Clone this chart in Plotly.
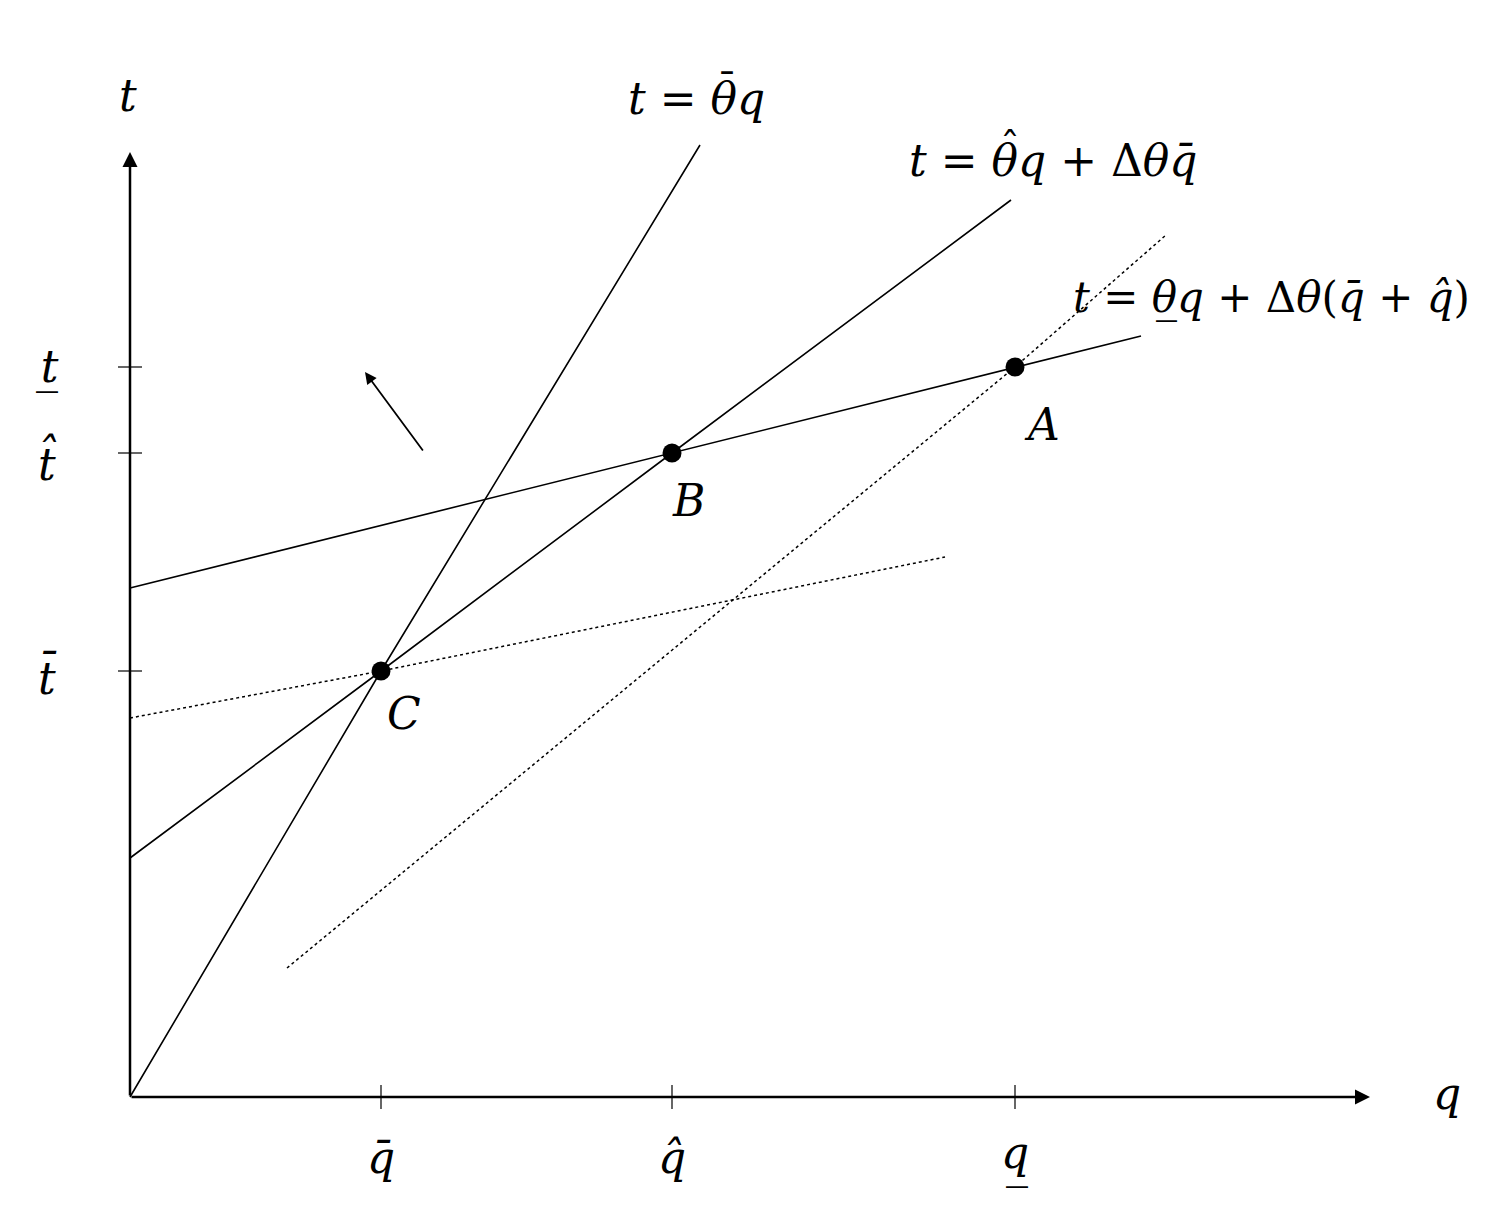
import plotly.graph_objects as go

# coordinates: q to the right, t upward, origin at the axes corner
q_bar, q_hat, q_low = 251, 542, 885
t_bar, t_hat, t_low = 426, 644, 730

# t = theta_bar q  (ray from origin)
ray_q = [0, 251, 570]
ray_t = [0, 426, 952]
# t = theta_hat q + d_theta q_bar
mid_q = [0, 251, 542, 881]
mid_t = [239, 426, 644, 897]
# t = theta_low q + d_theta (q_bar + q_hat)
low_q = [0, 542, 885, 1011]
low_t = [509, 644, 730, 761]
# dotted lines
dot1_q = [0, 251, 815]
dot1_t = [379, 426, 540]
dot2_q = [157, 885, 1036]
dot2_t = [129, 730, 862]

pts_q = [q_low, q_hat, q_bar]
pts_t = [t_low, t_hat, t_bar]
pts_lab = ["A", "B", "C"]

q_ticks = [q_bar, q_hat, q_low]
q_tick_text = ["<i>q\u0304</i>", "<i>q\u0302</i>", "<i>q\u0332</i>"]
t_ticks = [t_low, t_hat, t_bar]
t_tick_text = ["<i>t\u0332</i>", "<i>t\u0302</i>", "<i>t\u0304</i>"]

FONT = "DejaVu Serif"
BIG = 44

fig = go.Figure()

solid = dict(color="black", width=1.6)
dotted = dict(color="black", width=1.5, dash="dot")
fig.add_trace(go.Scatter(x=ray_q, y=ray_t, mode="lines", line=solid))
fig.add_trace(go.Scatter(x=mid_q, y=mid_t, mode="lines", line=solid))
fig.add_trace(go.Scatter(x=low_q, y=low_t, mode="lines", line=solid))
fig.add_trace(go.Scatter(x=dot1_q, y=dot1_t, mode="lines", line=dotted))
fig.add_trace(go.Scatter(x=dot2_q, y=dot2_t, mode="lines", line=dotted))

# tick marks
for v in q_ticks:
    fig.add_trace(go.Scatter(x=[v, v], y=[-12, 12], mode="lines",
                             line=dict(color="black", width=1.2)))
for v in t_ticks:
    fig.add_trace(go.Scatter(x=[-12, 12], y=[v, v], mode="lines",
                             line=dict(color="black", width=1.2)))

fig.add_trace(go.Scatter(x=pts_q, y=pts_t, mode="markers",
                         marker=dict(color="black", size=19)))

ann = []
# axes with arrow heads
ann.append(dict(x=0, y=945, ax=0, ay=0, axref="x", ayref="y", xref="x", yref="y",
                text="", showarrow=True, arrowhead=2, arrowsize=1.2,
                arrowwidth=2.5, arrowcolor="black", standoff=0, startstandoff=0))
ann.append(dict(x=1240, y=0, ax=0, ay=0, axref="x", ayref="y", xref="x", yref="y",
                text="", showarrow=True, arrowhead=2, arrowsize=1.2,
                arrowwidth=2.5, arrowcolor="black", standoff=0, startstandoff=0))
# small arrow in the upper left
ann.append(dict(x=235, y=725, ax=294, ay=645, axref="x", ayref="y", xref="x", yref="y",
                text="", showarrow=True, arrowhead=2, arrowsize=1.3,
                arrowwidth=1.8, arrowcolor="black", standoff=0))


def label(x, y, s, size=BIG):
    ann.append(dict(x=x, y=y, xref="x", yref="y", text=s, showarrow=False,
                    font=dict(family=FONT, size=size, color="black")))


label(-2, 1002, "<i>t</i>")
label(1317, 4, "<i>q</i>")
for v, s in zip(q_ticks, q_tick_text):
    label(v, -60, s)
for v, s, dy in zip(t_ticks, t_tick_text, [0, -8, -6]):
    label(-83, v + dy, s)

label(566, 999, "<i>t</i> = <i>θq</i>")
label(923, 937, "<i>t</i> = <i>θq</i> + Δ<i>θq\u0304</i>")
label(1141, 800, "<i>t</i> = <i>θ\u0332q</i> + Δ<i>θ</i>(<i>q\u0304</i> + <i>q\u0302</i>)",
      size=42)
# accents over the tall theta glyphs (combining marks collide with them)
label(597, 1010, "\u00af", size=40)
label(880, 951, "\u02c6", size=40)

for q, t, s in zip(pts_q, pts_t, pts_lab):
    off = {"A": (27, -57), "B": (16, -47), "C": (23, -42)}[s]
    label(q + off[0], t + off[1], "<i>" + s + "</i>")

# page body has an 8px margin, so the plot area starts 8px in
fig.update_layout(
    width=1511, height=1218,
    margin=dict(l=0, r=0, t=0, b=0),
    paper_bgcolor="white", plot_bgcolor="white",
    showlegend=False,
    annotations=ann,
    xaxis=dict(range=[-122, 1389], visible=False, fixedrange=True),
    yaxis=dict(range=[-129, 1089], visible=False, fixedrange=True),
)

fig.write_html("out.html")
